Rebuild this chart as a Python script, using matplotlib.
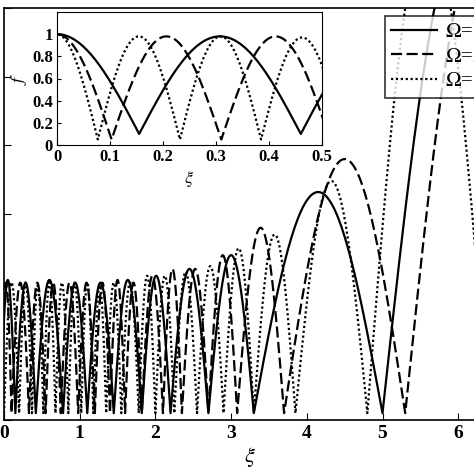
import numpy as np
import matplotlib
matplotlib.use("Agg")
import matplotlib.pyplot as plt

plt.rcParams['font.family'] = ['Liberation Serif', 'DejaVu Serif']
plt.rcParams['mathtext.fontset'] = 'stix'

# ---- main plot: minima positions and arch peak heights per series ----
solid_min = [-0.05, 0.15, 0.42, 0.78, 1.1, 1.45, 1.82, 2.2, 2.7, 3.3, 5.0, 7.2]
solid_pk  = [1.02, 1.0, 1.02, 1.0, 1.0, 1.02, 1.05, 1.1, 1.2, 1.66, 3.6]
dash_min  = [-0.05, 0.1, 0.33, 0.55, 0.75, 0.98, 1.2, 1.4, 1.6, 1.82, 2.1, 2.35, 2.7, 3.08, 3.7, 5.3, 7.4]
dash_pk   = [1.0, 1.0, 1.0, 1.0, 1.0, 1.0, 1.0, 1.02, 1.0, 1.05, 1.1, 1.1, 1.2, 1.4, 1.9, 3.6]
dot_min   = [0.0, 0.2, 0.37, 0.52, 0.68, 0.85, 1.02, 1.18, 1.35, 1.55, 1.78, 2.0, 2.25, 2.55, 2.9, 3.3, 3.85, 4.8, 6.4]
dot_pk    = [1.0, 1.0, 0.98, 1.0, 1.0, 1.0, 1.0, 0.98, 1.0, 1.0, 1.05, 1.05, 1.08, 1.12, 1.25, 1.35, 1.74, 3.6]
main_floor = 0.05

# ---- inset: minima positions, peak heights ----
in_solid_min = [-0.155, 0.155, 0.46, 0.77]
in_solid_pk = [1.0, 0.98, 1.0]
in_dash_min = [-0.103, 0.103, 0.31, 0.515]
in_dash_pk = [1.0, 0.98, 0.98]
in_dot_min = [-0.077, 0.077, 0.232, 0.385, 0.54]
in_dot_pk = [1.0, 0.98, 0.98, 0.97]
in_floors = [0.1, 0.05, 0.05]

legend_labels = [r'$\Omega$=1', r'$\Omega$=2', r'$\Omega$=3']

def arches(mins, pks, floor, n=80):
    xs, ys = [], []
    for a, b, h in zip(mins[:-1], mins[1:], pks):
        t = np.linspace(0, 1, n)
        xs.append(a + (b - a) * t)
        ys.append(floor + (h - floor) * np.sin(np.pi * t))
    return np.concatenate(xs), np.concatenate(ys)

fig = plt.figure(figsize=(4.74, 4.74), dpi=100)
ax = fig.add_axes([4/474, 54/474, 6.5*75.7/474, 412/474])
styles = [dict(ls='-', lw=1.6), dict(ls=(0, (5, 2)), lw=1.6), dict(ls=(0, (1, 1.2)), lw=1.6)]
for (mn, pk), st, lab in zip([(solid_min, solid_pk), (dash_min, dash_pk), (dot_min, dot_pk)], styles, legend_labels):
    x, y = arches(mn, pk, main_floor)
    ax.plot(x, y, color='black', label=lab, **st)
ax.set_xlim(0, 6.5)
ax.set_ylim(0, 3)
ax.set_xticks(range(7))
ax.set_yticks([0, 1, 1.5, 2, 2.5, 3])
ax.set_yticklabels([])
ax.tick_params(direction='in', labelsize=14, length=5)
for t in ax.get_xticklabels():
    t.set_fontweight('bold')
ax.set_xlabel(r'$\xi$', fontsize=16, labelpad=2)
for s in ax.spines.values():
    s.set_linewidth(1.2)
leg = ax.legend(loc='upper left', bbox_to_anchor=(385/474, 1 - 16/474), bbox_transform=fig.transFigure,
                fontsize=15, frameon=True, fancybox=False, edgecolor='black',
                handlelength=2.2, handletextpad=0.4, borderpad=0.3, labelspacing=0.25, borderaxespad=0)
leg.get_frame().set_linewidth(1.2)

ins = fig.add_axes([57/474, (474-145)/474, 265/474, 133/474])
for (mn, pk), st, fl in zip([(in_solid_min, in_solid_pk), (in_dash_min, in_dash_pk), (in_dot_min, in_dot_pk)], styles, in_floors):
    x, y = arches(mn, pk, fl)
    ins.plot(x, y, color='black', **st)
ins.set_xlim(0, 0.5)
ins.set_ylim(0, 1.2)
ins.set_xticks([0, 0.1, 0.2, 0.3, 0.4, 0.5])
ins.set_xticklabels(['0', '0.1', '0.2', '0.3', '0.4', '0.5'])
ins.set_yticks([0, 0.2, 0.4, 0.6, 0.8, 1])
ins.set_yticklabels(['0', '0.2', '0.4', '0.6', '0.8', '1'])
ins.tick_params(direction='in', labelsize=12, length=3, pad=3)
for t in ins.get_xticklabels() + ins.get_yticklabels():
    t.set_fontweight('bold')
ins.set_xlabel(r'$\xi$', fontsize=13, labelpad=3)
ins.set_ylabel(r'$f$', fontsize=13, labelpad=2)
fig.savefig('out.png', dpi=100)
